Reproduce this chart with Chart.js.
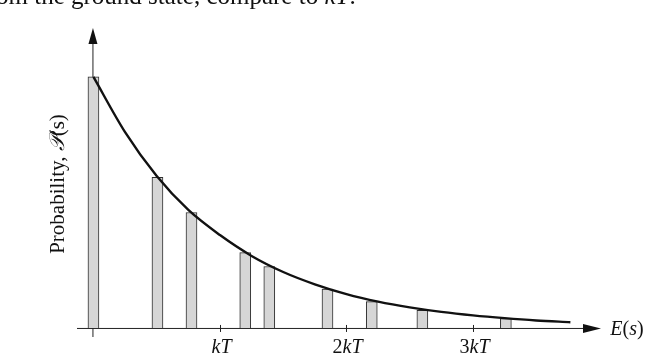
<!DOCTYPE html>
<html lang="en">
<head>
    <meta charset="UTF-8">
    <title>Boltzmann probabilities</title>
    <script src="https://cdn.jsdelivr.net/npm/chart.js"></script>
    <style>
        body { margin: 0; background: #fff; }
        #wrap { width: 658px; height: 359px; }
    </style>
</head>
<body>
<div id="wrap"><canvas id="probChart" width="658" height="359"></canvas></div>
<script>
// energies of the states, in units of kT
const stateEnergies = [0, 0.506, 0.775, 1.20, 1.39, 1.85, 2.20, 2.60, 3.26];
// probability of each state, relative to the ground state
const stateProbs = [1.0, 0.60, 0.46, 0.30, 0.245, 0.155, 0.105, 0.07, 0.037];
// smooth curve
const curveE = [0, 0.25, 0.5, 0.75, 1.0, 1.25, 1.5, 1.75, 2.0, 2.25, 2.5, 2.75, 3.0, 3.25, 3.5, 3.77];
const curveP = [1.0, 0.78, 0.605, 0.47, 0.37, 0.287, 0.223, 0.174, 0.135, 0.105, 0.082, 0.064, 0.05, 0.039, 0.030, 0.023];
const tickValues = [1, 2, 3];
const tickLabels = [['', 'kT'], ['2', 'kT'], ['3', 'kT']];

const serif = '"Liberation Serif", "DejaVu Serif", serif';

// draw a label made of an upright part and an italic part
function drawMixed(ctx, parts, cx, y, size) {
    const fonts = [size + 'px ' + serif, 'italic ' + size + 'px ' + serif];
    let w = 0;
    parts.forEach((p, i) => { ctx.font = fonts[i % 2]; w += ctx.measureText(p).width; });
    let x = cx - w / 2;
    parts.forEach((p, i) => {
        ctx.font = fonts[i % 2];
        ctx.fillText(p, x, y);
        x += ctx.measureText(p).width;
    });
}

const axesPlugin = {
    id: 'axes',
    beforeDatasetsDraw(chart) {
        const ctx = chart.ctx;
        const xs = chart.scales.x, ys = chart.scales.y;
        const x0 = xs.getPixelForValue(0), y0 = ys.getPixelForValue(0);
        const area = chart.chartArea;
        ctx.save();
        ctx.strokeStyle = '#222';
        ctx.fillStyle = '#111';
        ctx.lineWidth = 1;
        // x axis
        ctx.beginPath();
        ctx.moveTo(area.left, y0 + 0.5);
        ctx.lineTo(area.right - 14, y0 + 0.5);
        ctx.stroke();
        ctx.beginPath();
        ctx.moveTo(area.right, y0 + 0.5);
        ctx.lineTo(area.right - 18, y0 - 4);
        ctx.lineTo(area.right - 18, y0 + 5);
        ctx.closePath();
        ctx.fill();
        // y axis
        ctx.beginPath();
        ctx.moveTo(x0 - 0.5, area.bottom);
        ctx.lineTo(x0 - 0.5, area.top + 14);
        ctx.stroke();
        ctx.beginPath();
        ctx.moveTo(x0 - 0.5, area.top);
        ctx.lineTo(x0 - 5, area.top + 16);
        ctx.lineTo(x0 + 4, area.top + 16);
        ctx.closePath();
        ctx.fill();
        // ticks and labels
        ctx.textBaseline = 'alphabetic';
        tickValues.forEach((v, i) => {
            const px = Math.round(xs.getPixelForValue(v)) + 0.5;
            ctx.beginPath();
            ctx.moveTo(px, y0 - 3);
            ctx.lineTo(px, y0 + 4);
            ctx.stroke();
            drawMixed(ctx, tickLabels[i], px + 1, 353, 20);
        });
        // axis titles
        ctx.textBaseline = 'middle';
        drawMixed(ctx, ['', 'E', '(', 's', ')'], 627, 330, 20);
        ctx.translate(58, 184);
        ctx.rotate(-Math.PI / 2);
        drawMixed(ctx, ['Probability, ', '\u{1D4AB}', '(s)'], 0, 0, 21);
        ctx.restore();
        // cut-off line of text at the top
        ctx.save();
        ctx.fillStyle = '#111';
        ctx.textBaseline = 'alphabetic';
        ctx.font = '25px ' + serif;
        ctx.fillText('om the ground state, compare to ', -4, 4);
        const w = ctx.measureText('om the ground state, compare to ').width;
        ctx.font = 'italic 25px ' + serif;
        ctx.fillText('kT', -4 + w, 4);
        const w2 = ctx.measureText('kT').width;
        ctx.font = '25px ' + serif;
        ctx.fillText('.', -4 + w + w2, 4);
        ctx.restore();
    }
};

new Chart(document.getElementById('probChart').getContext('2d'), {
    data: {
        datasets: [
            {
                type: 'line',
                data: curveE.map((e, i) => ({x: e, y: curveP[i]})),
                borderColor: '#111',
                borderWidth: 2.4,
                pointRadius: 0,
                cubicInterpolationMode: 'monotone',
                order: 0
            },
            {
                type: 'bar',
                data: stateEnergies.map((e, i) => ({x: e, y: stateProbs[i]})),
                backgroundColor: '#d6d6d6',
                borderColor: '#2e2e2e',
                borderWidth: 1,
                borderSkipped: 'bottom',
                barThickness: 11,
                grouped: false,
                order: 1
            }
        ]
    },
    options: {
        responsive: false,
        animation: false,
        layout: {padding: {left: 77, right: 57, top: 28, bottom: 22}},
        plugins: {legend: {display: false}, tooltip: {enabled: false}},
        scales: {
            x: {type: 'linear', min: -0.13, max: 4.012, offset: false, display: false},
            y: {type: 'linear', min: -0.036, max: 1.195, display: false}
        }
    },
    plugins: [axesPlugin]
});
</script>
</body>
</html>
